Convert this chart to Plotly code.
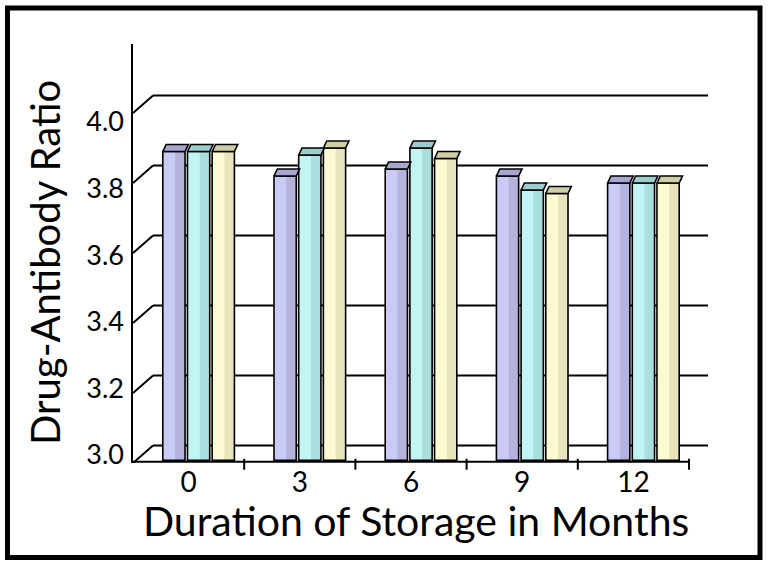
import plotly.graph_objects as go

# ---- data ----
months = ["0", "3", "6", "9", "12"]
series_a = [3.89, 3.82, 3.84, 3.82, 3.80]   # lavender
series_b = [3.89, 3.88, 3.90, 3.78, 3.80]   # cyan
series_c = [3.89, 3.90, 3.87, 3.77, 3.80]   # yellow
y_ticks = [3.0, 3.2, 3.4, 3.6, 3.8, 4.0]
y_tick_text = ["3.0", "3.2", "3.4", "3.6", "3.8", "4.0"]

x_title = "Duration of Storage in Months"
y_title = "Drug-Antibody Ratio"

# ---- styles ----
FONT = "Lato, 'Open Sans', sans-serif"
face = ["#cacaf6", "#c2f4f4", "#fcfad2"]
shade = ["#b3b3de", "#abdede", "#e8e4bc"]
cap = ["#a6a6d2", "#9ccccc", "#d2cea4"]
BAR_W = 0.2
STEP = 0.222
SHIFT = 0.09
CAP_DX = 0.03
CAP_DY = 0.02
DEPTH_X = 0.18
DEPTH_Y = 0.05
BASE = 3.008

W, H = 768, 567
L, R, T, B = 133, 60, 44, 104
PW, PH = W - L - R, H - T - B
UNIT_X = 111.2
UNIT_Y = 350.0
XR = [-0.5, -0.5 + PW / UNIT_X]
YR = [3.0, 3.0 + PH / UNIT_Y]
# label axis (labels in the reference sit slightly off the front tick points)
LBL_UNIT = 333.0
LBL_Y3 = 455.0
YR2 = [3.0 - (H - B - LBL_Y3) / LBL_UNIT, 3.0 + (LBL_Y3 - T) / LBL_UNIT]


def px_x(p):
    return (p - L) / PW


def px_y(p):
    return (H - B - p) / PH


fig = go.Figure()

all_series = [series_a, series_b, series_c]
idx = list(range(len(months)))
for k, vals in enumerate(all_series):
    xc = [i + SHIFT + (k - 1) * STEP for i in idx]
    fig.add_trace(go.Bar(x=xc, y=[v - BASE for v in vals], base=[BASE] * len(vals),
                         width=BAR_W, marker=dict(color=face[k], line=dict(width=0)),
                         showlegend=False, hoverinfo="skip"))
    fig.add_trace(go.Bar(x=[x + BAR_W / 2 - 0.045 for x in xc], y=[v - BASE for v in vals],
                         base=[BASE] * len(vals), width=0.09,
                         marker=dict(color=shade[k], line=dict(width=0)),
                         showlegend=False, hoverinfo="skip"))
    fig.add_trace(go.Bar(x=xc, y=[v - BASE for v in vals], base=[BASE] * len(vals),
                         width=BAR_W, marker=dict(color="rgba(0,0,0,0)",
                                                  line=dict(color="black", width=1.6)),
                         showlegend=False, hoverinfo="skip"))
    cx, cy = [], []
    for x, v in zip(xc, vals):
        x0, x1 = x - BAR_W / 2, x + BAR_W / 2
        cx += [x0, x0 + CAP_DX, x1 + CAP_DX, x1, x0, None]
        cy += [v, v + CAP_DY, v + CAP_DY, v, v, None]
    fig.add_trace(go.Scatter(x=cx, y=cy, mode="lines", fill="toself", fillcolor=cap[k],
                             line=dict(color="black", width=1.6),
                             showlegend=False, hoverinfo="skip"))

# invisible trace to activate the label axis
fig.add_trace(go.Scatter(x=[None], y=[None], yaxis="y2", showlegend=False, hoverinfo="skip"))

shapes = []
for v in y_ticks:
    shapes.append(dict(type="line", xref="x", yref="y", x0=XR[0] + DEPTH_X, x1=XR[1],
                       y0=v + DEPTH_Y, y1=v + DEPTH_Y, line=dict(color="black", width=2),
                       layer="below"))
    shapes.append(dict(type="line", xref="x", yref="y", x0=XR[0], x1=XR[0] + DEPTH_X,
                       y0=v, y1=v + DEPTH_Y, line=dict(color="black", width=2),
                       layer="below"))
shapes.append(dict(type="line", xref="x", yref="paper", x0=-0.5, x1=len(months) - 0.5,
                   y0=0.003, y1=0.003, line=dict(color="black", width=2), layer="below"))
for i in idx:
    shapes.append(dict(type="line", xref="x", yref="paper", x0=i + 0.5, x1=i + 0.5,
                       y0=0.01, y1=-0.016, line=dict(color="black", width=2)))
shapes.append(dict(type="rect", xref="paper", yref="paper",
                   x0=px_x(7.5), x1=px_x(760), y0=px_y(557.5), y1=px_y(8),
                   line=dict(color="black", width=5)))

annotations = [
    dict(text=x_title, xref="paper", yref="paper", x=px_x(416), y=px_y(520),
         xanchor="center", yanchor="middle", showarrow=False,
         font=dict(size=41, family=FONT, color="black")),
    dict(text=y_title, xref="paper", yref="paper", x=px_x(45), y=px_y(263),
         xanchor="center", yanchor="middle", showarrow=False, textangle=-90,
         font=dict(size=40, family=FONT, color="black")),
]

fig.update_layout(
    width=W, height=H,
    margin=dict(l=L, r=R, t=T, b=B, pad=0),
    paper_bgcolor="white", plot_bgcolor="white",
    barmode="overlay",
    shapes=shapes,
    annotations=annotations,
    font=dict(family=FONT, color="black"),
    xaxis=dict(range=XR, tickvals=idx, ticktext=months, showgrid=False, zeroline=False,
               showline=False, ticks="", tickfont=dict(size=28, family=FONT)),
    yaxis=dict(range=YR, showgrid=False, zeroline=False, showline=True,
               linecolor="black", linewidth=2, ticks="", showticklabels=False),
    yaxis2=dict(range=YR2, overlaying="y", side="left", tickvals=y_ticks,
                ticktext=y_tick_text, showgrid=False, zeroline=False, showline=False,
                ticks="", ticklabelstandoff=8, tickfont=dict(size=27, family=FONT)),
)

fig.write_html("out.html")
